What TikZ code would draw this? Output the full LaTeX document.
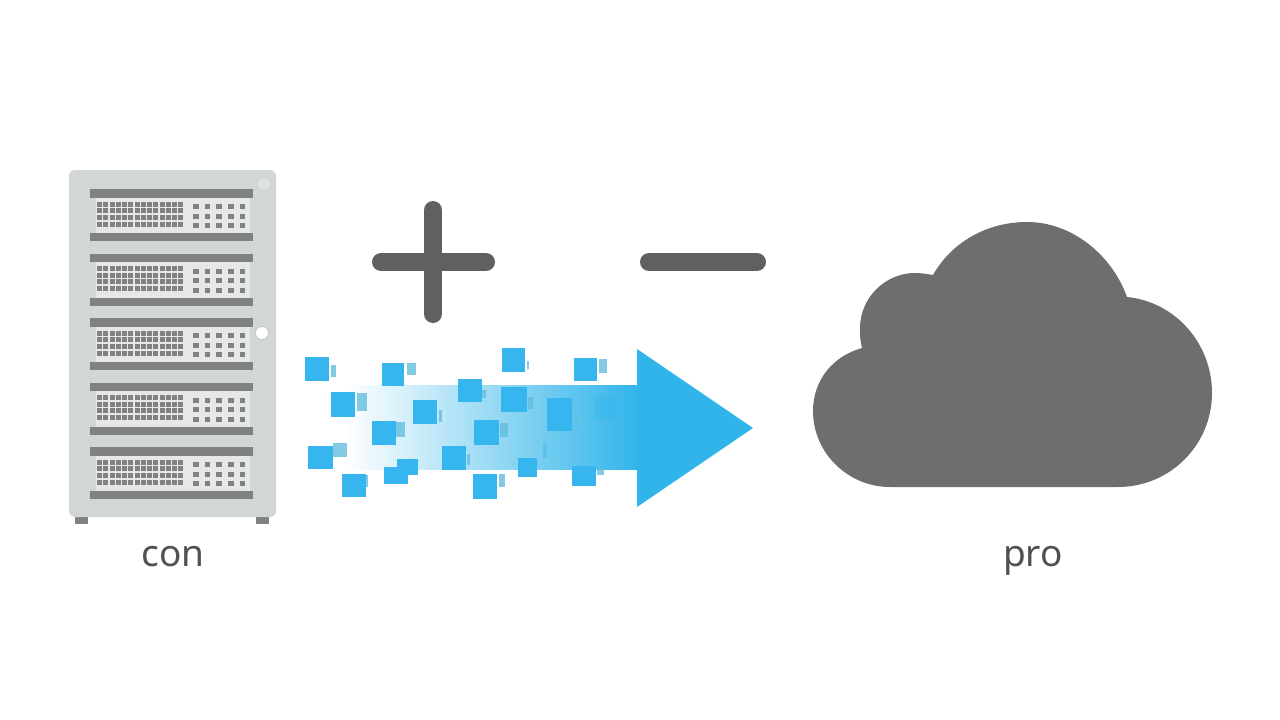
\documentclass[tikz,border=0pt]{standalone}
\usepackage{fontspec}
\setmainfont{Noto Sans}
\definecolor{bodygray}{HTML}{D3D6D7}
\definecolor{panelgray}{HTML}{E6E8E8}
\definecolor{bargray}{HTML}{7F8182}
\definecolor{dotgray}{HTML}{808183}
\definecolor{signgray}{HTML}{5F6062}
\definecolor{cloudgray}{HTML}{6D6E70}
\definecolor{labelgray}{HTML}{505153}
\definecolor{arrowblue}{HTML}{30B4E9}
\definecolor{squareblue}{HTML}{36B5EE}
\definecolor{sideblue}{HTML}{62BEDF}
\definecolor{midblue}{HTML}{93D6F2}

\begin{document}
\begin{tikzpicture}[
        x=1pt, y=-1pt,
        sign/.style={signgray, line width=18pt, line cap=round},
        bar/.style={fill=bargray},
        dot/.style={fill=dotgray},
        square/.style={fill=squareblue},
        side/.style={fill=sideblue, opacity=0.8},
        faint/.style={fill=squareblue, opacity=0.4},
        label/.style={text=labelgray, anchor=base, font=\fontsize{37}{40}\selectfont}
    ]
        \useasboundingbox (0,0) rectangle (1280,720);

        % Server cabinet
        \fill[bargray] (75,515) rectangle (88,524);
        \fill[bargray] (256,515) rectangle (269,524);
        \fill[bodygray, rounded corners=6pt] (69,170) rectangle (276,517);
        \fill[white, opacity=0.3] (264,184) circle (6);

        % Five units of the cabinet
        \foreach \unit in {0,...,4} {
            \begin{scope}[yshift={-64.5*\unit pt}]
                \fill[panelgray] (96,197) rectangle (250,233);
                \fill[bar] (90,189) rectangle (253,197.5);
                \fill[bar] (90,233) rectangle (253,241);
                \foreach \col in {0,...,13}
                    \foreach \row in {0,...,3}
                        \fill[dot] ({97+6.25*\col},{201.5+6.7*\row}) rectangle +(5,5);
                \foreach \col in {0,...,4}
                    \foreach \row in {0,...,2}
                        \fill[dot] ({193+11.7*\col},{204+9.5*\row}) rectangle +(5.5,5);
            \end{scope}
        }
        \filldraw[draw=bodygray!85!black, fill=white, line width=0.5pt] (262,333) circle (6.5);

        % Plus and minus
        \draw[sign] (381,262) -- (486,262);
        \draw[sign] (433,210) -- (433,314);
        \draw[sign] (649,262) -- (757,262);

        % Arrow
        \fill[left color=white, middle color=midblue, right color=arrowblue] (345,385) rectangle (640,469);
        \fill[arrowblue] (637,349) -- (753,428) -- (637,507) -- cycle;

        % Small squares beside the big ones
        \foreach \xa/\ya/\xb/\yb in {
            331/365/336/377, 407/363/416/375, 527/361/529/369, 357/393/367/411,
            482/390/486/398, 528/397/533/409, 439/410/442/422, 396/422/405/437,
            500/423/508/437, 333/443/347/457, 467/454/470/465, 366/475/368/487,
            499/474/505/487, 599/359/607/373, 575/415/578/427, 597/468/604/475}
            \fill[side] (\xa,\ya) rectangle (\xb,\yb);

        % Big squares
        \foreach \xa/\ya/\xb/\yb in {
            305/357/329/381, 382/363/404/386, 502/348/525/372, 331/392/355/417,
            458/379/482/402, 501/387/527/412, 413/400/437/424, 372/421/396/445,
            474/420/499/445, 308/446/333/469, 442/446/466/470, 397/459/418/475,
            384/467/408/484, 342/474/366/497, 473/474/497/499, 518/458/537/477,
            574/358/597/381, 547/398/572/431, 572/466/596/486}
            \fill[square] (\xa,\ya) rectangle (\xb,\yb);

        % Squares that fade into the arrow
        \fill[faint] (594,397) rectangle (617,420);
        \fill[faint] (543,443) rectangle (547,458);

        % Cloud
        \fill[cloudgray] (890,487)
            .. controls (848,487) and (813,453) .. (813,411)
            .. controls (813,380) and (833,356) .. (862,348)
            .. controls (860,341) and (860,334) .. (860,328)
            .. controls (860,298) and (885,273) .. (915,273)
            .. controls (921,273) and (927,274) .. (933,275)
            .. controls (951,243) and (986,222) .. (1027,222)
            .. controls (1072,222) and (1112,255) .. (1127,297)
            .. controls (1176,302) and (1212,344) .. (1212,393)
            .. controls (1212,445) and (1170,487) .. (1118,487)
            -- cycle;

        % Labels
        \node[label] (con) at (173,566) {con};
        \node[label] (pro) at (1033,566) {pro};
    \end{tikzpicture}
\end{document}
